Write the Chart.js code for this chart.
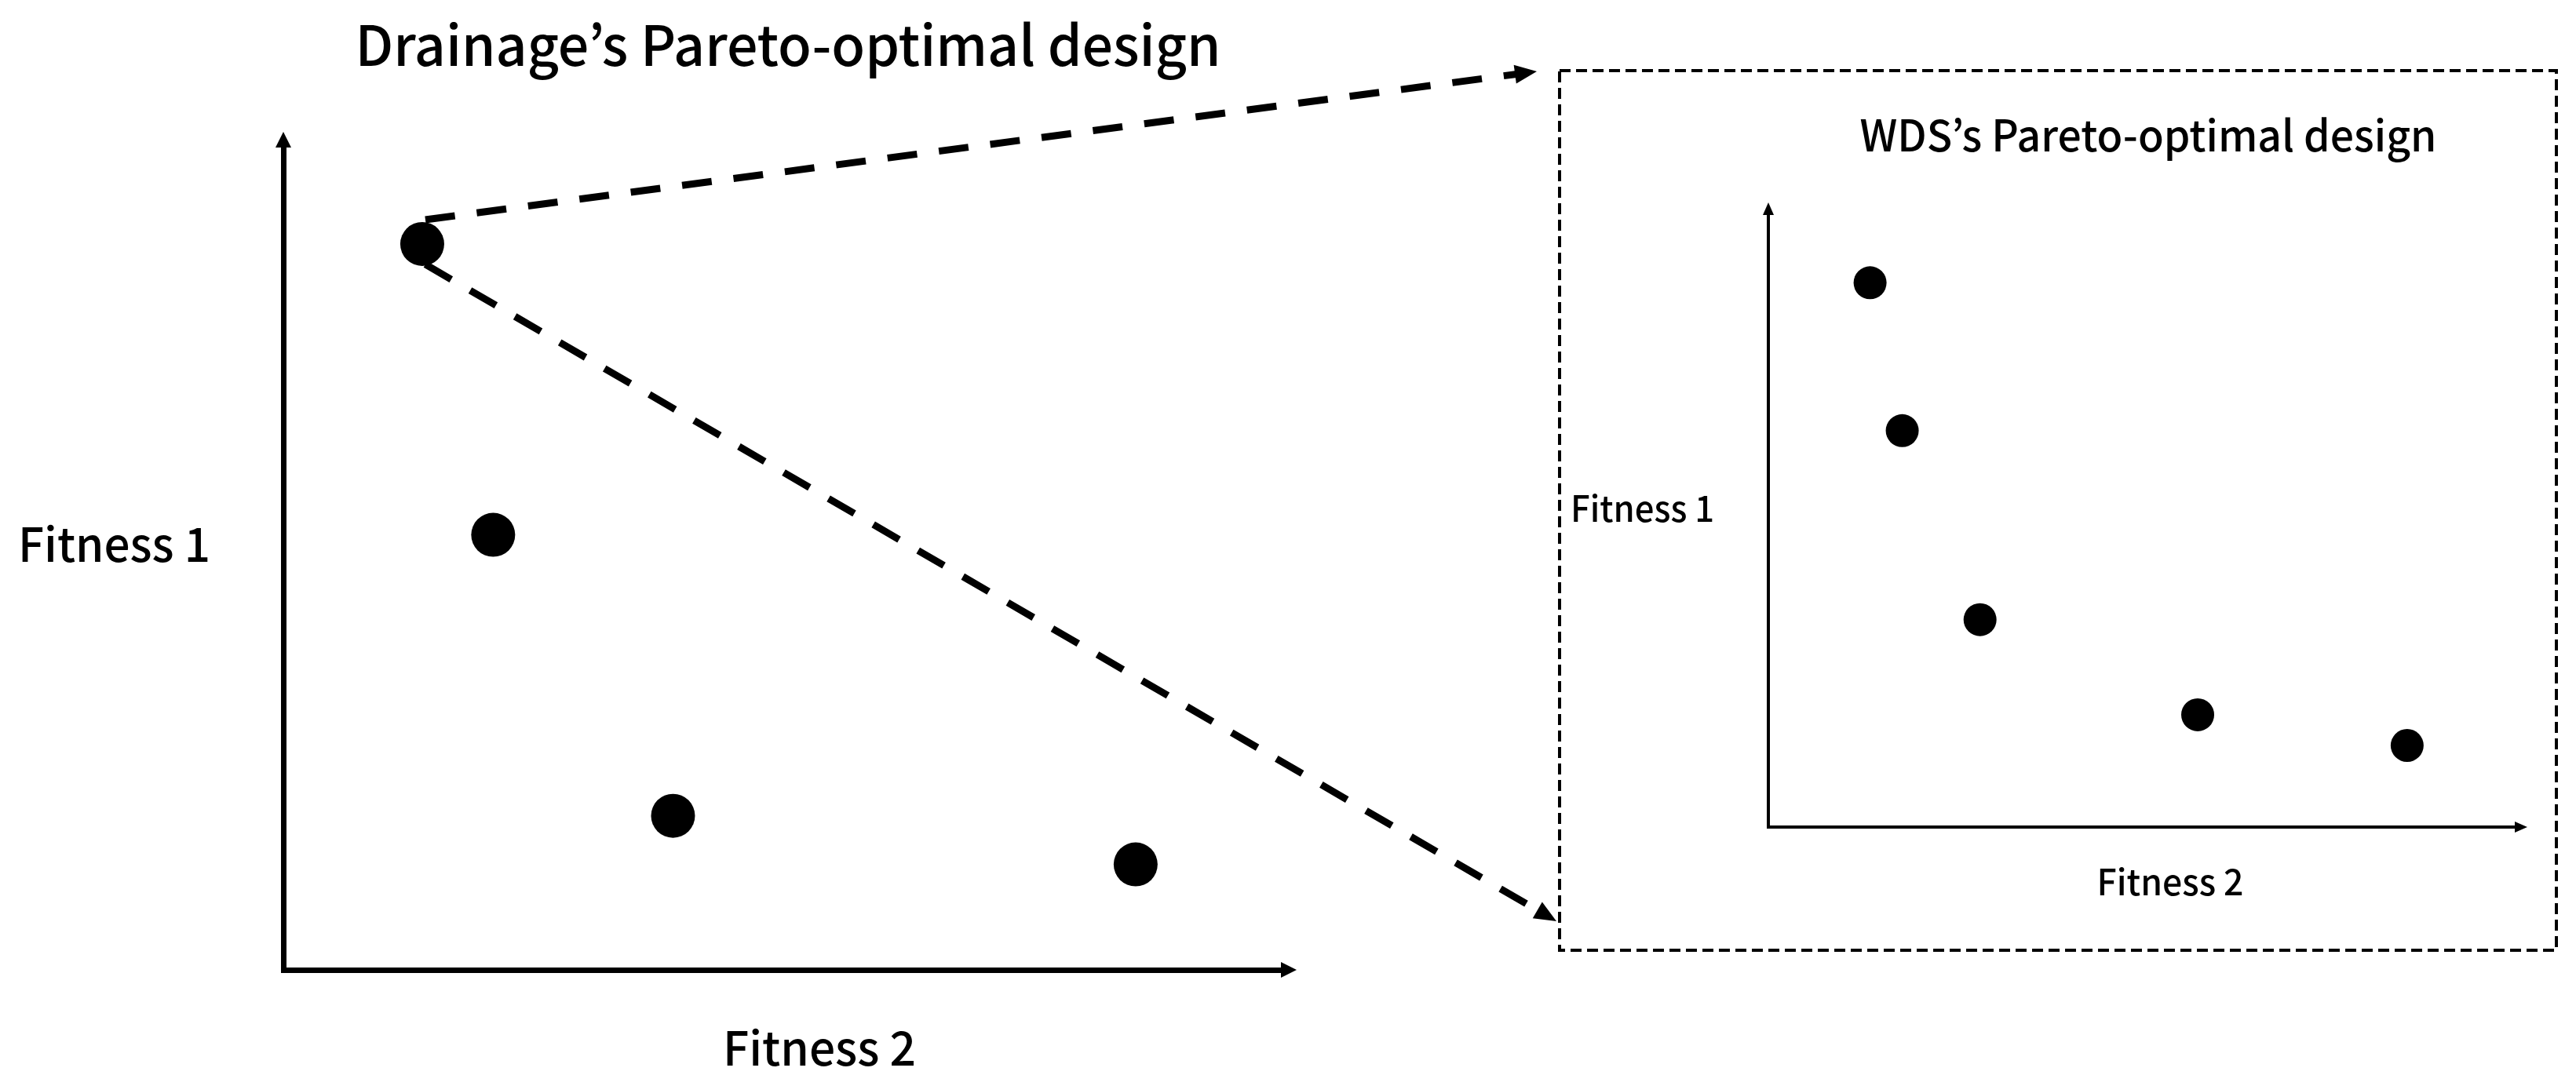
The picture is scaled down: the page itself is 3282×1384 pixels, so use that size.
<!DOCTYPE html>
<html>
<head>
<meta charset="utf-8">
<title>Pareto-optimal design</title>
<script src="https://cdn.jsdelivr.net/npm/chart.js@4.4.1/dist/chart.umd.min.js"></script>
<style>
  html, body { margin: 0; padding: 0; background: #fff; }
  #wrap { position: relative; width: 3282px; height: 1384px; }
  #wrap canvas { position: absolute; left: 0; top: 0; }
</style>
</head>
<body>
<div id="wrap">
  <canvas id="drainChart" width="3282" height="1384"></canvas>
  <canvas id="wdsChart" width="3282" height="1384"></canvas>
</div>
<script>
// values (both axes are unitless, 0..10)
const axisMin = 0;
const axisMax = 10;

const drainFitness2 = [1.39, 2.10, 3.90, 8.53];
const drainFitness1 = [8.81, 5.28, 1.87, 1.28];

const wdsFitness2 = [1.36, 1.79, 2.83, 5.74, 8.54];
const wdsFitness1 = [8.87, 6.46, 3.38, 1.83, 1.33];

const drainTitle = 'Drainage’s Pareto-optimal design';
const wdsTitle = 'WDS’s Pareto-optimal design';
const yLabel = 'Fitness 1';
const xLabel = 'Fitness 2';

const FONT = "'Noto Sans CJK KR', 'Noto Sans', sans-serif";

function toPoints(xs, ys) {
  return xs.map((x, i) => ({ x: x, y: ys[i] }));
}

function arrowHead(ctx, fromX, fromY, tipX, tipY, len, half) {
  const a = Math.atan2(tipY - fromY, tipX - fromX);
  ctx.beginPath();
  ctx.moveTo(tipX, tipY);
  ctx.lineTo(tipX - len * Math.cos(a) + half * Math.sin(a), tipY - len * Math.sin(a) - half * Math.cos(a));
  ctx.lineTo(tipX - len * Math.cos(a) - half * Math.sin(a), tipY - len * Math.sin(a) + half * Math.cos(a));
  ctx.closePath();
  ctx.fill();
}

// axis arrow heads + free text labels
const sketchPlugin = {
  id: 'sketch',
  afterDraw(chart, args, opts) {
    const ctx = chart.ctx;
    const area = chart.chartArea;
    ctx.save();
    ctx.fillStyle = '#000';
    arrowHead(ctx, area.right - 10, area.bottom, area.right + opts.head, area.bottom, opts.head + 2, opts.headHalf);
    arrowHead(ctx, area.left, area.top + 10, area.left, area.top - opts.head, opts.head + 2, opts.headHalf);

    ctx.textBaseline = 'middle';
    opts.texts.forEach(t => {
      ctx.font = '500 ' + t.size + 'px ' + FONT;
      ctx.textAlign = t.align || 'center';
      ctx.fillText(t.text, t.x, t.y, t.maxWidth);
    });
    ctx.restore();
  }
};

// dashed zoom box + two dashed connectors from the first drainage design
const zoomPlugin = {
  id: 'zoomBox',
  afterDraw(chart, args, opts) {
    const ctx = chart.ctx;
    const pt = chart.getDatasetMeta(0).data[0];
    ctx.save();
    ctx.strokeStyle = '#000';
    ctx.fillStyle = '#000';

    ctx.lineWidth = 4;
    ctx.setLineDash([14, 7]);
    ctx.strokeRect(opts.box.x, opts.box.y, opts.box.w, opts.box.h);

    const starts = [
      { x: pt.x + 4, y: pt.y - 31, tip: opts.upperTip },
      { x: pt.x + 4, y: pt.y + 26, tip: opts.lowerTip }
    ];
    ctx.lineWidth = 9;
    ctx.setLineDash([38, 28]);
    starts.forEach(s => {
      const a = Math.atan2(s.tip.y - s.y, s.tip.x - s.x);
      ctx.beginPath();
      ctx.moveTo(s.x, s.y);
      ctx.lineTo(s.tip.x - 24 * Math.cos(a), s.tip.y - 24 * Math.sin(a));
      ctx.stroke();
      arrowHead(ctx, s.x, s.y, s.tip.x, s.tip.y, 28, 12);
    });
    ctx.restore();
  }
};

function axis(width) {
  return {
    type: 'linear',
    min: axisMin,
    max: axisMax,
    ticks: { display: false },
    grid: { display: false, drawTicks: false },
    border: { display: true, color: '#000', width: width }
  };
}

new Chart(document.getElementById('drainChart'), {
  type: 'scatter',
  data: {
    datasets: [{
      label: drainTitle,
      data: toPoints(drainFitness2, drainFitness1),
      backgroundColor: '#000',
      borderWidth: 0,
      pointRadius: 28,
      pointHoverRadius: 28
    }]
  },
  options: {
    responsive: false,
    animation: false,
    events: [],
    layout: { padding: { left: 361, right: 3282 - 1634, top: 186, bottom: 1384 - 1236 } },
    scales: { x: axis(7), y: axis(7) },
    plugins: {
      legend: { display: false },
      tooltip: { enabled: false },
      sketch: {
        head: 18,
        headHalf: 10,
        texts: [
          { text: drainTitle, x: 1004, y: 57, size: 71, maxWidth: 1103 },
          { text: yLabel, x: 23, y: 693, size: 60, align: 'left', maxWidth: 245 },
          { text: xLabel, x: 1044, y: 1335, size: 60, maxWidth: 246 }
        ]
      },
      zoomBox: {
        box: { x: 1987, y: 90, w: 3257 - 1987, h: 1211 - 90 },
        upperTip: { x: 1958, y: 91 },
        lowerTip: { x: 1983, y: 1174 }
      }
    }
  },
  plugins: [sketchPlugin, zoomPlugin]
});

new Chart(document.getElementById('wdsChart'), {
  type: 'scatter',
  data: {
    datasets: [{
      label: wdsTitle,
      data: toPoints(wdsFitness2, wdsFitness1),
      backgroundColor: '#000',
      borderWidth: 0,
      pointRadius: 21,
      pointHoverRadius: 21
    }]
  },
  options: {
    responsive: false,
    animation: false,
    events: [],
    layout: { padding: { left: 2253, right: 3282 - 3206, top: 272, bottom: 1384 - 1054 } },
    scales: { x: axis(4), y: axis(4) },
    plugins: {
      legend: { display: false },
      tooltip: { enabled: false },
      sketch: {
        head: 14,
        headHalf: 7,
        texts: [
          { text: wdsTitle, x: 2737, y: 172, size: 55, maxWidth: 735 },
          { text: yLabel, x: 2001, y: 648, size: 46, align: 'left', maxWidth: 183 },
          { text: xLabel, x: 2765, y: 1124, size: 46, maxWidth: 187 }
        ]
      }
    }
  },
  plugins: [sketchPlugin]
});
</script>
</body>
</html>
